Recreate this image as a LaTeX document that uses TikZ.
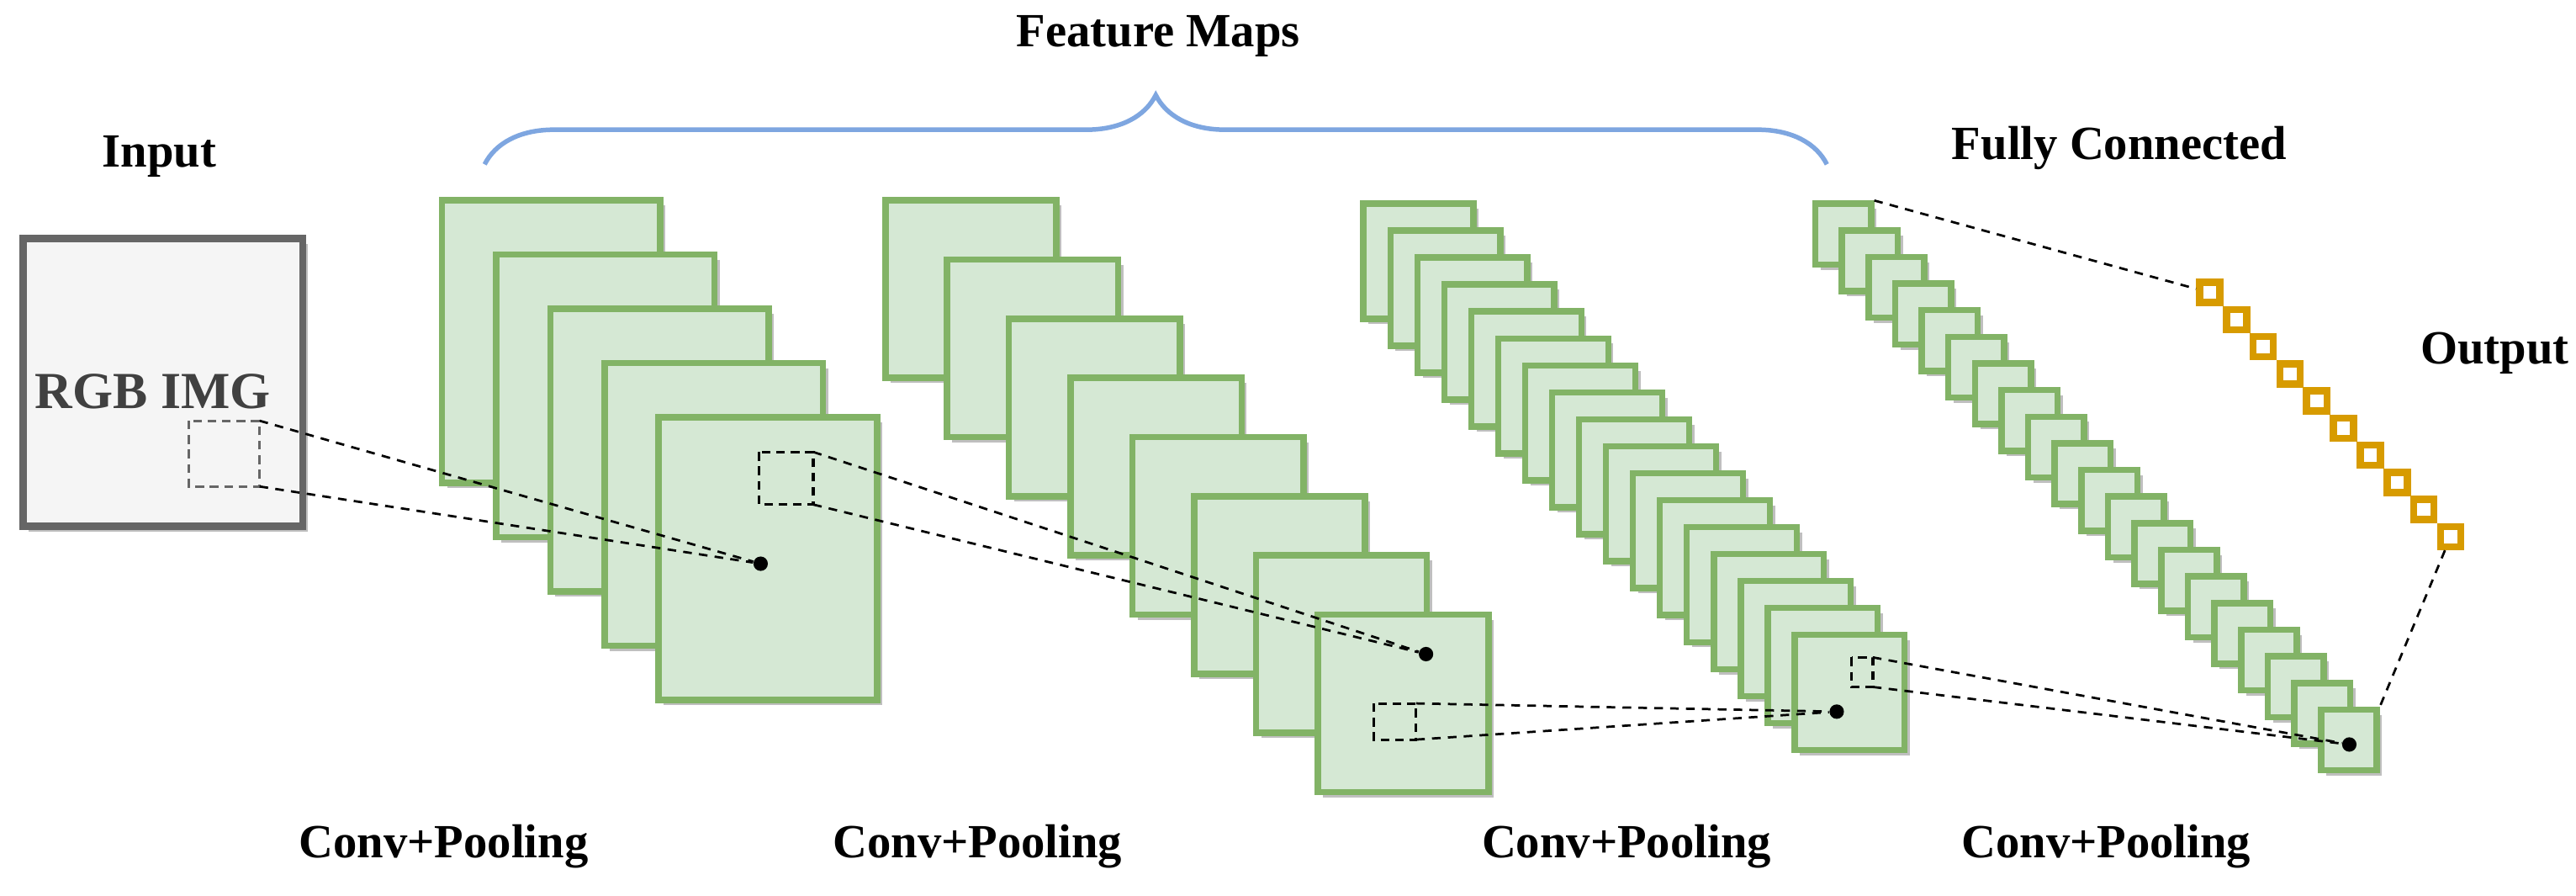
\documentclass[tikz,border=0pt]{standalone}
\usepackage{fontspec}
\setmainfont{Liberation Serif}
\usetikzlibrary{shadows,decorations.pathreplacing}
\definecolor{mapline}{HTML}{82B366}
\definecolor{mapfill}{HTML}{D5E8D4}
\definecolor{imgline}{HTML}{666666}
\definecolor{imgfill}{HTML}{F5F5F5}
\definecolor{outline}{HTML}{D79B00}
\definecolor{outfill}{HTML}{E6A817}
\definecolor{bracecol}{HTML}{7EA6E0}
\tikzset{
  lbl/.style={font=\bfseries\fontsize{16.5}{18}\selectfont},
  fmap/.style={draw=mapline,fill=mapfill,line width=2.2pt,anchor=north west,inner sep=0pt,
    drop shadow={opacity=1,fill=black!25,shadow xshift=1.8pt,shadow yshift=-1.8pt}},
  outunit/.style={draw=outline,fill=white,line width=2.5pt,minimum size=7pt,inner sep=0pt,
    drop shadow={opacity=1,fill=black!25,shadow xshift=1.2pt,shadow yshift=-1.2pt}},
  link/.style={dashed,thick,dash pattern=on 3pt off 2.5pt},
  window/.style={dashed,line width=0.9pt,dash pattern=on 3pt off 2pt},
  dot/.style={circle,fill=black,inner sep=0pt,minimum size=5pt}
}
\begin{document}
\begin{tikzpicture}[x=0.02cm,y=-0.02cm]
\useasboundingbox (0,0) rectangle (1568,545);
% input image
\node[draw=imgline,fill=imgfill,line width=2.6pt,anchor=north west,inner sep=0pt,
  minimum width=170*0.02cm,minimum height=175*0.02cm,
  drop shadow={opacity=1,fill=black!25,shadow xshift=1.8pt,shadow yshift=-1.8pt}]
  (img) at (12,143) {};
\node[font=\bfseries\fontsize{18}{20}\selectfont,text=black!75] (rgb) at (93,238) {RGB IMG};
\draw[window,draw=black!60] (115,256) rectangle (158,296);
\coordinate (w0a) at (158,256);
\coordinate (w0b) at (158,296);
% feature maps
\foreach \i in {0,...,4}
  \node[fmap,minimum width=133*0.02cm,minimum height=172*0.02cm] (ga\i) at (267+33*\i,120+33*\i) {};
\foreach \i in {0,...,7}
  \node[fmap,minimum width=104*0.02cm,minimum height=108*0.02cm] (gb\i) at (537+37.6*\i,120+36*\i) {};
\foreach \i in {0,...,16}
  \node[fmap,minimum width=67*0.02cm,minimum height=70*0.02cm] (gc\i) at (828+16.4*\i,122+16.4*\i) {};
\foreach \i in {0,...,19}
  \node[fmap,minimum width=34*0.02cm,minimum height=37*0.02cm] (gd\i) at (1103+16.2*\i,122+16.2*\i) {};
% receptive windows
\draw[window] (462,275) rectangle (495,307);
\coordinate (w1a) at (495,275);
\coordinate (w1b) at (495,307);
\draw[window] (836,428) rectangle (862,450);
\coordinate (w2a) at (862,428);
\coordinate (w2b) at (862,450);
\draw[window] (1127,400) rectangle (1140,418);
\coordinate (w3a) at (1140,400);
\coordinate (w3b) at (1140,418);
\node[dot] (d1) at (463,343) {};
\node[dot] (d2) at (868,398) {};
\node[dot] (d3) at (1118,433) {};
\node[dot] (d4) at (1430,453) {};
\draw[link] (w0a) -- (d1); \draw[link] (w0b) -- (d1);
\draw[link] (w1a) -- (d2); \draw[link] (w1b) -- (d2);
\draw[link] (w2a) -- (d3); \draw[link] (w2b) -- (d3);
\draw[link] (w3a) -- (d4); \draw[link] (w3b) -- (d4);
% output units
\foreach \i in {0,...,9}
  \node[outunit] (o\i) at (1345+16.3*\i,178+16.5*\i) {};
\draw[link] (gd0.north east) -- (o0);
\draw[link] (o9) -- (gd19.north east);
% brace
\draw[bracecol,line width=1.6pt,decorate,decoration={brace,amplitude=24pt}]
  (295,100) -- (1112,100);
% labels
\node[lbl] (fm) at (705,22) {Feature Maps};
\node[lbl] (inp) at (97,95) {Input};
\node[lbl] (fc) at (1290,90) {Fully Connected};
\node[lbl,anchor=east,inner sep=0pt] (outp) at (1564,215) {Output};
\node[lbl] (cp1) at (270,515) {Conv+Pooling};
\node[lbl] (cp2) at (595,515) {Conv+Pooling};
\node[lbl] (cp3) at (990,515) {Conv+Pooling};
\node[lbl] (cp4) at (1282,515) {Conv+Pooling};
\end{tikzpicture}
\end{document}
